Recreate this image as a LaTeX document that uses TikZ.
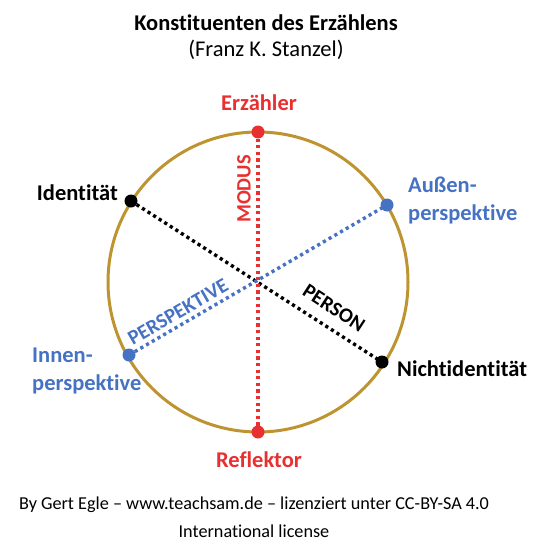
\documentclass[tikz,border=0pt]{standalone}
\usepackage{fontspec}
\setmainfont{Carlito}[Ligatures={NoCommon}]
\begin{document}
\begin{tikzpicture}[x=1pt,y=-1pt,
  ring/.style={draw=ringc, line width=3pt},
  dotline/.style={line width=3.4pt, dash pattern=on 3.2pt off 3.4pt},
  pt/.style={circle, fill, inner sep=0pt, minimum size=13pt},
  lbl/.style={font=\fontsize{22.5}{28}\selectfont\bfseries, inner sep=0pt},
  axis/.style={font=\fontsize{20.5}{24}\selectfont\bfseries, inner sep=0pt}]
\definecolor{ringc}{RGB}{190,148,48}
\definecolor{redc}{RGB}{232,48,48}
\definecolor{bluec}{RGB}{70,114,196}
\useasboundingbox (0,0) rectangle (550,554);
\fill[white] (0,0) rectangle (550,554);
\node[font=\fontsize{22.5}{26}\selectfont\bfseries, inner sep=0pt] (title) at (266,23) {Konstituenten des Erzählens};
\node[font=\fontsize{22.5}{26}\selectfont, inner sep=0pt] (sub) at (266,50) {(Franz K. Stanzel)};
\coordinate (c) at (258,282);
\draw[ring] (c) circle[radius=150];
\coordinate (top) at (258,132);
\coordinate (bot) at (258,432);
\coordinate (idn) at (131,201);
\coordinate (nid) at (382,362);
\coordinate (aus) at (387,205);
\coordinate (inn) at (129,355);
\draw[dotline, black] (idn) -- (nid);
\draw[dotline, bluec] (inn) -- (aus);
\draw[dotline, redc] (top) -- (bot);
\node[pt, fill=redc] (ptop) at (top) {};
\node[pt, fill=redc] (pbot) at (bot) {};
\node[pt, fill=black] (pidn) at (idn) {};
\node[pt, fill=black] (pnid) at (nid) {};
\node[pt, fill=bluec] (paus) at (aus) {};
\node[pt, fill=bluec] (pinn) at (inn) {};
\node[lbl, text=redc] (erz) at (259,103) {Erzähler};
\node[lbl, text=redc] (ref) at (259,460) {Reflektor};
\node[lbl, anchor=east] (lid) at (118,193) {Identität};
\node[lbl, anchor=west] (lnid) at (397,369) {Nichtidentität};
\node[lbl, text=bluec, anchor=west, align=left] (laus) at (408,200) {Außen-\\perspektive};
\node[lbl, text=bluec, anchor=west, align=left] (linn) at (32,371) {Innen-\\perspektive};
\node[axis, text=redc, rotate=90] (modus) at (244,189) {MODUS};
\node[axis, text=bluec, rotate=30] (persp) at (178,312) {PERSPEKTIVE};
\node[axis, text=black, rotate=-33] (pers) at (334,308) {PERSON};
\node[font=\fontsize{18.2}{28}\selectfont, align=center, inner sep=0pt] (foot) at (254,517) {By Gert Egle – www.teachsam.de – lizenziert unter CC-BY-SA 4.0\\International license};
\end{tikzpicture}
\end{document}
